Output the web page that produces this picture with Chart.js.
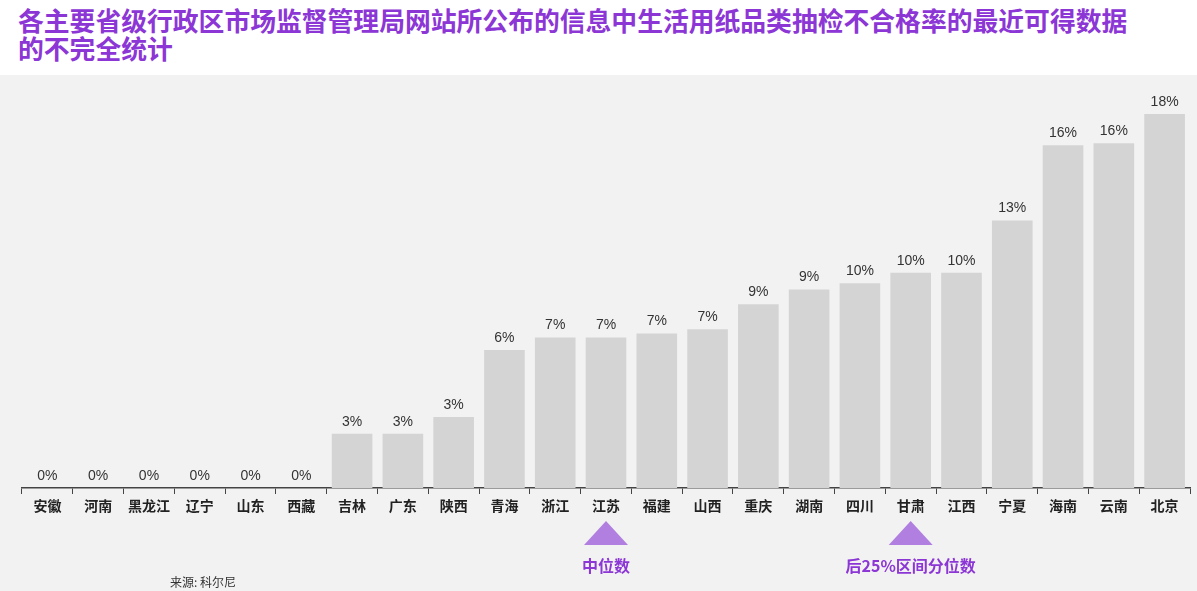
<!DOCTYPE html>
<html><head><meta charset="utf-8">
<script src="https://cdn.jsdelivr.net/npm/chart.js@4"></script>
<style>
body{margin:0;width:1197px;height:591px;overflow:hidden;background:#fff;font-family:"Noto Sans CJK SC",sans-serif}
#t{position:absolute;left:18px;top:6px;font-weight:bold;font-size:25.8px;line-height:28px;color:#8c36d6;white-space:nowrap}
#p{position:absolute;left:0;top:75px;width:1197px;height:516px;background:#f2f2f2}
</style></head><body>
<div id="t">各主要省级行政区市场监督管理局网站所公布的信息中生活用纸品类抽检不合格率的最近可得数据<br>的不完全统计</div>
<div id="p"><canvas id="c" width="1197" height="516"></canvas></div>
<script>
const categories=["安徽","河南","黑龙江","辽宁","山东","西藏","吉林","广东","陕西","青海","浙江","江苏","福建","山西","重庆","湖南","四川","甘肃","江西","宁夏","海南","云南","北京"];
const values=[0,0,0,0,0,0,2.6,2.6,3.4,6.6,7.2,7.2,7.4,7.6,8.8,9.5,9.8,10.3,10.3,12.8,16.4,16.5,17.9];
const valueLabels=["0%","0%","0%","0%","0%","0%","3%","3%","3%","6%","7%","7%","7%","7%","9%","9%","10%","10%","10%","13%","16%","16%","18%"];
const markers=[{cat:"江苏",text:"中位数"},{cat:"甘肃",text:"后25%区间分位数"}];
const source="来源: 科尔尼";
const deco={id:"deco",afterDatasetsDraw(ch){
 const c=ch.ctx,x=ch.scales.x,y=ch.scales.y,base=y.getPixelForValue(0);
 c.save();c.textAlign="center";c.fillStyle="#333";
 c.font="14px 'Liberation Sans',Arial";c.textBaseline="bottom";
 categories.forEach((k,i)=>{c.fillText(valueLabels[i],x.getPixelForValue(i),y.getPixelForValue(values[i])-5);});
 c.font="bold 14px 'Noto Sans CJK SC'";c.textBaseline="middle";c.fillStyle="#222";
 categories.forEach((k,i)=>c.fillText(k,x.getPixelForValue(i),base+18));
 markers.forEach(m=>{const px=x.getPixelForValue(categories.indexOf(m.cat));
  c.fillStyle="#b07fe0";c.beginPath();c.moveTo(px,base+33);c.lineTo(px+22,base+57);c.lineTo(px-22,base+57);c.closePath();c.fill();
  c.fillStyle="#8c36d6";c.font="bold 16px 'Noto Sans CJK SC'";c.fillText(m.text,px,base+78);});
 c.fillStyle="#333";c.font="12px 'Noto Sans CJK SC'";c.textAlign="left";c.fillText(source,170,base+94);
 c.restore();}};
new Chart(document.getElementById("c"),{type:"bar",
 data:{labels:categories,datasets:[{data:values,backgroundColor:"#d4d4d4",categoryPercentage:1,barPercentage:0.8}]},
 options:{responsive:false,animation:false,events:[],
  layout:{padding:{left:22,right:7,top:16,bottom:97}},
  plugins:{legend:{display:false},tooltip:{enabled:false}},
  scales:{x:{ticks:{display:false},grid:{display:true,drawOnChartArea:false,tickLength:6,color:"#444",offset:true},border:{color:"#444",width:1.5}},
   y:{display:false,min:0,max:19}}},
 plugins:[deco]});
</script></body></html>
